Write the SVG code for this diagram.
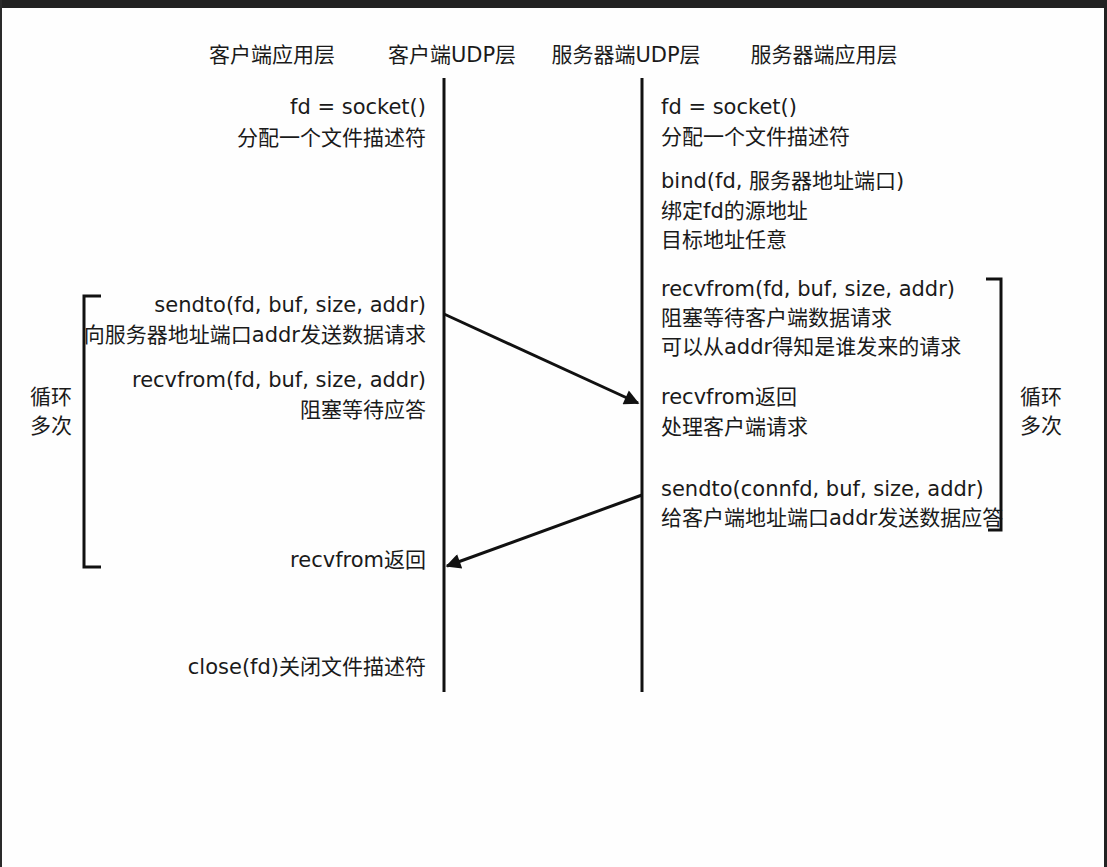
<svg xmlns="http://www.w3.org/2000/svg" width="1107" height="867" viewBox="0 0 1107 867">
<style>
text{font-family:"DejaVu Sans","Noto Sans CJK SC",sans-serif;font-size:21px;fill:#1a1a1a}
.r{text-anchor:end}
.m{text-anchor:middle}
.ln{stroke:#111;stroke-width:3;fill:none}
.ar{stroke:#111;stroke-width:3;fill:none;marker-end:url(#ah)}
</style>
<defs>
<marker id="ah" viewBox="0 0 10 10" refX="9" refY="5" markerWidth="6" markerHeight="5" orient="auto" markerUnits="strokeWidth"><path d="M0,0L10,5L0,10z" fill="#111"/></marker>
</defs>
<rect x="0" y="0" width="1107" height="867" fill="#fefefe"/>
<rect x="0" y="0" width="1107" height="8" fill="#222"/>
<rect x="0" y="0" width="2" height="867" fill="#2a2a2a"/>
<rect x="1104" y="0" width="3" height="867" fill="#222"/>
<g id="headers">
<text class="m" x="272" y="62">客户端应用层</text>
<text class="m" x="452" y="62">客户端UDP层</text>
<text class="m" x="626" y="62">服务器端UDP层</text>
<text class="m" x="824" y="62">服务器端应用层</text>
</g>
<g id="lifelines">
<line class="ln" x1="444" y1="78" x2="444" y2="692"/>
<line class="ln" x1="642" y1="78" x2="642" y2="692"/>
</g>
<g id="client-socket"><text class="r" x="426" y="114">fd = socket()</text><text class="r" x="426" y="145">分配一个文件描述符</text></g>
<g id="client-send"><text class="r" x="426" y="312">sendto(fd, buf, size, addr)</text><text class="r" x="426" y="342">向服务器地址端口addr发送数据请求</text></g>
<g id="client-recv"><text class="r" x="426" y="387">recvfrom(fd, buf, size, addr)</text><text class="r" x="426" y="417">阻塞等待应答</text></g>
<g id="client-ret"><text class="r" x="426" y="567">recvfrom返回</text></g>
<g id="client-close"><text class="r" x="426" y="674">close(fd)关闭文件描述符</text></g>
<g id="server-socket"><text x="661" y="114">fd = socket()</text><text x="661" y="144">分配一个文件描述符</text></g>
<g id="server-bind"><text x="661" y="188">bind(fd, 服务器地址端口)</text><text x="661" y="218">绑定fd的源地址</text><text x="661" y="247">目标地址任意</text></g>
<g id="server-recv"><text x="661" y="296">recvfrom(fd, buf, size, addr)</text><text x="661" y="325">阻塞等待客户端数据请求</text><text x="661" y="354">可以从addr得知是谁发来的请求</text></g>
<g id="server-ret"><text x="661" y="404">recvfrom返回</text><text x="661" y="434">处理客户端请求</text></g>
<g id="server-send"><text x="661" y="496">sendto(connfd, buf, size, addr)</text><text x="661" y="525">给客户端地址端口addr发送数据应答</text></g>
<g id="loop-left"><path class="ln" d="M101,296H84V567H101"/><text x="30" y="404">循环</text><text x="30" y="433">多次</text></g>
<g id="loop-right"><path class="ln" d="M986,279H1001V530H988"/><text x="1020" y="404">循环</text><text x="1020" y="433">多次</text></g>
<g id="connectors">
<line class="ar" x1="444" y1="314" x2="638" y2="403"/>
<line class="ar" x1="642" y1="495" x2="447" y2="566"/>
</g>
</svg>
